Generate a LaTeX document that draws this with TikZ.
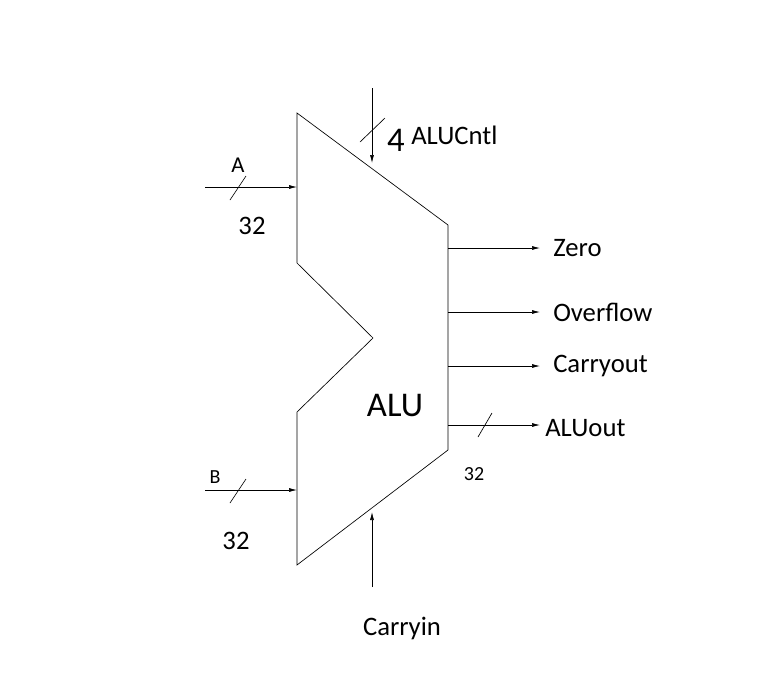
\documentclass[tikz,border=0pt]{standalone}
\usepackage{fontspec}
\setmainfont{Carlito}
\usetikzlibrary{arrows.meta}
\begin{document}
\begin{tikzpicture}[x=0.75pt,y=-0.75pt,>={Latex[length=6pt,width=3pt]},
  wire/.style={draw,line width=0.5pt},
  lbl/.style={font=\fontsize{20}{22}\selectfont,inner sep=0pt},
  sml/.style={font=\fontsize{15}{17}\selectfont,inner sep=0pt}]
\useasboundingbox (0,0) rectangle (769,690);
% ALU body
\draw[line width=0.5pt] (297,113) -- (448,225) -- (448,450) -- (297,565) -- (297,412) -- (373,338) -- (297,263) -- cycle;
\node[font=\fontsize{26}{28}\selectfont] (alu) at (395,405) {ALU};
% inputs
\coordinate (ain) at (205,187); \coordinate (aend) at (297,187);
\draw[wire,->] (ain) -- (aend);
\draw[wire] (230,200) -- (246,176);
\node[font=\fontsize{17}{19}\selectfont,inner sep=0pt] (la) at (238,165) {A};
\node[lbl] (na) at (252,226) {32};
\coordinate (bin) at (205,490); \coordinate (bend) at (297,490);
\draw[wire,->] (bin) -- (bend);
\draw[wire] (230,503) -- (246,479);
\node[sml] (lb) at (215,477) {B};
\node[lbl] (nb) at (236,541) {32};
% control
\coordinate (cin) at (372,88); \coordinate (cend) at (372,163);
\draw[wire,->] (cin) -- (cend);
\draw[wire] (360,142) -- (385,118);
\node[font=\fontsize{26}{28}\selectfont,inner sep=0pt] (n4) at (396,140) {4};
\node[lbl,anchor=west] (lc) at (411,135) {ALUCntl};
% outputs
\foreach \y/\t/\n in {248/Zero/z,312/Overflow/o,366/Carryout/c}{
  \coordinate (s\n) at (448,\y); \coordinate (e\n) at (540,\y);
  \draw[wire,->] (s\n) -- (e\n);
  \node[lbl,anchor=west] (l\n) at (553,\y) {\t};
}
\coordinate (sa) at (448,425); \coordinate (ea) at (540,425);
\draw[wire,->] (sa) -- (ea);
\draw[wire] (478,437) -- (492,413);
\node[lbl,anchor=west] (lo) at (545,428) {ALUout};
\node[sml] (no) at (474,474) {32};
% carry in
\coordinate (ci) at (372,587); \coordinate (ce) at (372,512);
\draw[wire,->] (ci) -- (ce);
\node[lbl] (lci) at (402,628) {Carryin};
\end{tikzpicture}
\end{document}
